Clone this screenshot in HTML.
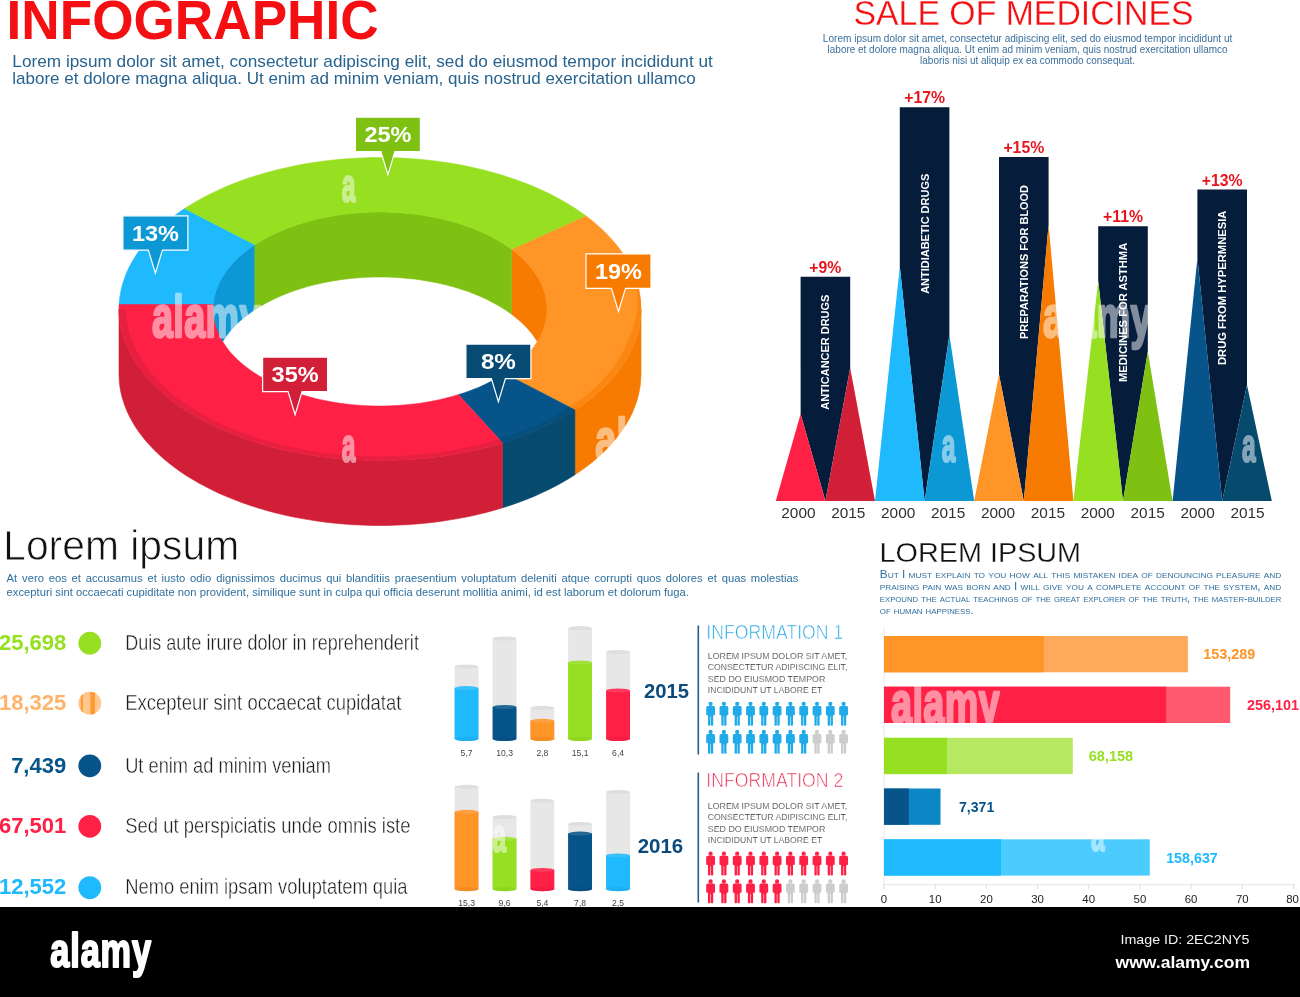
<!DOCTYPE html>
<html><head><meta charset="utf-8"><title>Infographic</title>
<style>
html,body{margin:0;padding:0;background:#fff;}
body{width:1300px;height:997px;overflow:hidden;position:relative;font-family:"Liberation Sans",sans-serif;}
svg{position:absolute;left:0;top:0;will-change:transform;}
svg text{font-family:"Liberation Sans",sans-serif;}
.thin{stroke:#fff;stroke-width:0.4px;paint-order:fill stroke;}
.thinS{stroke:#fff;stroke-width:0.9px;paint-order:fill stroke;}
.thinL{stroke:#fff;stroke-width:0.8px;paint-order:fill stroke;}
.thinM{stroke:#fff;stroke-width:0.4px;paint-order:fill stroke;}
.thinI{stroke:#fff;stroke-width:0.65px;paint-order:fill stroke;}
.thin1{stroke:#fff;stroke-width:0.18px;paint-order:fill stroke;}
.thin2{stroke:#fff;stroke-width:0.3px;paint-order:fill stroke;}
</style></head><body>
<svg width="1300" height="997" viewBox="0 0 1300 997">

<g id="donut">
<path d="M511.6 249.3 L515.1 252.0 L518.4 254.8 L521.6 257.6 L524.6 260.5 L527.5 263.5 L530.1 266.5 L532.6 269.5 L534.8 272.7 L536.9 275.8 L538.8 279.0 L540.5 282.3 L542.0 285.5 L543.4 288.8 L544.5 292.2 L545.4 295.5 L546.1 298.9 L546.6 302.2 L546.9 305.6 L547.0 309.0 L547.0 374.0 L546.9 370.6 L546.6 367.2 L546.1 363.9 L545.4 360.5 L544.5 357.2 L543.4 353.8 L542.0 350.5 L540.5 347.3 L538.8 344.0 L536.9 340.8 L534.8 337.7 L532.6 334.5 L530.1 331.5 L527.5 328.5 L524.6 325.5 L521.6 322.6 L518.4 319.8 L515.1 317.0 L511.6 314.3Z" fill="#f77b00" stroke="#f77b00" stroke-width="0.6"/>
<path d="M213.0 309.0 L213.2 303.9 L213.2 368.9 L213.0 374.0Z" fill="#d11f37" stroke="#d11f37" stroke-width="0.6"/>
<path d="M213.2 303.9 L213.6 300.5 L214.3 297.1 L215.1 293.7 L216.1 290.3 L217.4 287.0 L218.8 283.6 L220.5 280.3 L222.3 277.1 L224.3 273.9 L226.6 270.7 L229.0 267.6 L231.6 264.5 L234.4 261.5 L237.4 258.5 L240.6 255.6 L243.9 252.8 L247.4 250.0 L251.1 247.3 L254.9 244.7 L254.9 309.7 L251.1 312.3 L247.4 315.0 L243.9 317.8 L240.6 320.6 L237.4 323.5 L234.4 326.5 L231.6 329.5 L229.0 332.6 L226.6 335.7 L224.3 338.9 L222.3 342.1 L220.5 345.3 L218.8 348.6 L217.4 352.0 L216.1 355.3 L215.1 358.7 L214.3 362.1 L213.6 365.5 L213.2 368.9Z" fill="#0c97d5" stroke="#0c97d5" stroke-width="0.6"/>
<path d="M254.9 244.7 L258.9 242.2 L263.0 239.8 L267.2 237.4 L271.6 235.2 L276.2 233.0 L280.8 231.0 L285.6 229.0 L290.5 227.1 L295.5 225.3 L300.6 223.7 L305.8 222.1 L311.1 220.6 L316.4 219.3 L321.9 218.1 L327.4 216.9 L333.0 215.9 L338.7 215.0 L344.4 214.2 L350.1 213.6 L355.9 213.0 L361.7 212.6 L367.5 212.3 L373.4 212.1 L379.2 212.0 L385.1 212.0 L391.0 212.2 L396.8 212.5 L402.6 212.9 L408.4 213.4 L414.2 214.0 L419.9 214.8 L425.5 215.7 L431.1 216.7 L436.7 217.8 L442.2 219.0 L447.6 220.3 L452.9 221.7 L458.1 223.3 L463.2 224.9 L468.2 226.6 L473.2 228.5 L478.0 230.4 L482.7 232.5 L487.2 234.6 L491.6 236.9 L495.9 239.2 L500.1 241.6 L504.1 244.1 L507.9 246.6 L511.6 249.3 L511.6 314.3 L507.9 311.6 L504.1 309.1 L500.1 306.6 L495.9 304.2 L491.6 301.9 L487.2 299.6 L482.7 297.5 L478.0 295.4 L473.2 293.5 L468.2 291.6 L463.2 289.9 L458.1 288.3 L452.9 286.7 L447.6 285.3 L442.2 284.0 L436.7 282.8 L431.1 281.7 L425.5 280.7 L419.9 279.8 L414.2 279.0 L408.4 278.4 L402.6 277.9 L396.8 277.5 L391.0 277.2 L385.1 277.0 L379.2 277.0 L373.4 277.1 L367.5 277.3 L361.7 277.6 L355.9 278.0 L350.1 278.6 L344.4 279.2 L338.7 280.0 L333.0 280.9 L327.4 281.9 L321.9 283.1 L316.4 284.3 L311.1 285.6 L305.8 287.1 L300.6 288.7 L295.5 290.3 L290.5 292.1 L285.6 294.0 L280.8 296.0 L276.2 298.0 L271.6 300.2 L267.2 302.4 L263.0 304.8 L258.9 307.2 L254.9 309.7Z" fill="#7ec112" stroke="#7ec112" stroke-width="0.6"/>
<path d="M641.0 309.0 L640.8 314.5 L640.3 320.0 L639.4 325.5 L638.2 331.0 L636.7 336.4 L634.8 341.8 L632.6 347.2 L630.0 352.5 L627.1 357.7 L623.9 362.9 L620.4 368.0 L616.5 373.1 L612.3 378.0 L607.9 382.9 L603.1 387.7 L598.0 392.3 L592.6 396.9 L587.0 401.3 L581.1 405.6 L574.9 409.8 L574.9 474.8 L581.1 470.6 L587.0 466.3 L592.6 461.9 L598.0 457.3 L603.1 452.7 L607.9 447.9 L612.3 443.0 L616.5 438.1 L620.4 433.0 L623.9 427.9 L627.1 422.7 L630.0 417.5 L632.6 412.2 L634.8 406.8 L636.7 401.4 L638.2 396.0 L639.4 390.5 L640.3 385.0 L640.8 379.5 L641.0 374.0Z" fill="#f77b00" stroke="#f77b00" stroke-width="0.6"/>
<path d="M574.9 409.8 L568.6 413.7 L562.1 417.5 L555.4 421.2 L548.4 424.7 L541.2 428.1 L533.9 431.4 L526.3 434.5 L518.5 437.4 L510.6 440.2 L502.5 442.8 L502.5 507.8 L510.6 505.2 L518.5 502.4 L526.3 499.5 L533.9 496.4 L541.2 493.1 L548.4 489.7 L555.4 486.2 L562.1 482.5 L568.6 478.7 L574.9 474.8Z" fill="#064a6e" stroke="#064a6e" stroke-width="0.6"/>
<path d="M502.5 442.8 L494.4 445.2 L486.2 447.4 L477.8 449.5 L469.3 451.4 L460.7 453.1 L451.9 454.6 L443.1 456.0 L434.3 457.2 L425.3 458.2 L416.3 459.0 L407.3 459.7 L398.2 460.1 L389.1 460.4 L380.0 460.5 L370.9 460.4 L361.8 460.1 L352.7 459.7 L343.7 459.0 L334.7 458.2 L325.7 457.2 L316.9 456.0 L308.1 454.6 L299.3 453.1 L290.7 451.4 L282.2 449.5 L273.8 447.4 L265.6 445.2 L257.5 442.8 L249.5 440.2 L241.7 437.5 L234.1 434.6 L226.6 431.6 L219.3 428.4 L212.2 425.1 L205.4 421.6 L198.7 418.0 L192.3 414.2 L186.0 410.4 L180.1 406.4 L174.3 402.3 L168.8 398.0 L163.6 393.7 L158.7 389.3 L154.0 384.8 L149.6 380.1 L145.4 375.4 L141.6 370.6 L138.0 365.8 L134.7 360.8 L131.8 355.8 L129.1 350.8 L126.8 345.7 L124.7 340.5 L123.0 335.3 L121.5 330.1 L120.4 324.8 L119.6 319.6 L119.2 314.3 L119.0 309.0 L119.0 374.0 L119.2 379.3 L119.6 384.6 L120.4 389.8 L121.5 395.1 L123.0 400.3 L124.7 405.5 L126.8 410.7 L129.1 415.8 L131.8 420.8 L134.7 425.8 L138.0 430.8 L141.6 435.6 L145.4 440.4 L149.6 445.1 L154.0 449.8 L158.7 454.3 L163.6 458.7 L168.8 463.0 L174.3 467.3 L180.1 471.4 L186.0 475.4 L192.3 479.2 L198.7 483.0 L205.4 486.6 L212.2 490.1 L219.3 493.4 L226.6 496.6 L234.1 499.6 L241.7 502.5 L249.5 505.2 L257.5 507.8 L265.6 510.2 L273.8 512.4 L282.2 514.5 L290.7 516.4 L299.3 518.1 L308.1 519.6 L316.9 521.0 L325.7 522.2 L334.7 523.2 L343.7 524.0 L352.7 524.7 L361.8 525.1 L370.9 525.4 L380.0 525.5 L389.1 525.4 L398.2 525.1 L407.3 524.7 L416.3 524.0 L425.3 523.2 L434.3 522.2 L443.1 521.0 L451.9 519.6 L460.7 518.1 L469.3 516.4 L477.8 514.5 L486.2 512.4 L494.4 510.2 L502.5 507.8Z" fill="#d11f37" stroke="#d11f37" stroke-width="0.6"/>
<path d="M585.7 215.7 L591.3 220.0 L596.6 224.5 L601.7 229.0 L606.4 233.6 L610.9 238.4 L615.1 243.2 L619.0 248.1 L622.6 253.1 L625.9 258.2 L628.8 263.3 L631.5 268.5 L633.8 273.7 L635.8 279.0 L637.5 284.3 L638.9 289.6 L639.9 295.0 L640.6 300.4 L640.9 305.8 L641.0 311.2 L640.7 316.6 L640.0 322.0 L639.1 327.4 L637.8 332.7 L636.2 338.0 L634.2 343.3 L631.9 348.6 L629.4 353.7 L626.5 358.9 L623.2 363.9 L619.7 368.9 L615.9 373.9 L611.7 378.7 L607.3 383.5 L602.6 388.1 L597.6 392.7 L592.3 397.1 L586.8 401.5 L580.9 405.7 L574.9 409.8 L504.7 373.5 L508.6 370.9 L512.3 368.2 L515.8 365.4 L519.2 362.6 L522.4 359.7 L525.4 356.7 L528.3 353.6 L530.9 350.5 L533.4 347.4 L535.6 344.2 L537.7 340.9 L539.6 337.6 L541.2 334.3 L542.7 331.0 L543.9 327.6 L544.9 324.2 L545.8 320.8 L546.4 317.3 L546.8 313.9 L547.0 310.4 L547.0 306.9 L546.7 303.5 L546.3 300.0 L545.6 296.6 L544.8 293.2 L543.7 289.8 L542.4 286.4 L540.9 283.0 L539.2 279.7 L537.3 276.4 L535.2 273.2 L532.9 270.0 L530.4 266.9 L527.7 263.8 L524.9 260.8 L521.8 257.8 L518.6 254.9 L515.2 252.0 L511.6 249.3Z" fill="#ff9527" stroke="#ff9527" stroke-width="0.5"/>
<path d="M574.9 409.8 L568.6 413.7 L562.1 417.5 L555.4 421.2 L548.4 424.7 L541.2 428.1 L533.9 431.4 L526.3 434.5 L518.5 437.4 L510.6 440.2 L502.5 442.8 L458.4 394.6 L463.6 393.0 L468.6 391.2 L473.6 389.3 L478.4 387.4 L483.2 385.3 L487.7 383.1 L492.2 380.8 L496.5 378.5 L500.7 376.1 L504.7 373.5Z" fill="#06548a" stroke="#06548a" stroke-width="0.5"/>
<path d="M502.5 442.8 L494.3 445.2 L485.9 447.5 L477.4 449.6 L468.7 451.5 L460.0 453.2 L451.1 454.8 L442.1 456.1 L433.1 457.3 L424.0 458.3 L414.9 459.1 L405.7 459.8 L396.4 460.2 L387.2 460.4 L377.9 460.5 L368.7 460.4 L359.5 460.0 L350.2 459.5 L341.1 458.8 L331.9 457.9 L322.9 456.8 L313.9 455.6 L305.0 454.1 L296.1 452.5 L287.4 450.7 L278.8 448.7 L270.4 446.5 L262.0 444.1 L253.9 441.6 L245.8 439.0 L238.0 436.1 L230.3 433.1 L222.8 429.9 L215.5 426.6 L208.4 423.2 L201.6 419.6 L194.9 415.8 L188.5 412.0 L182.4 407.9 L176.4 403.8 L170.8 399.6 L165.4 395.2 L160.2 390.7 L155.4 386.2 L150.8 381.5 L146.5 376.7 L142.5 371.9 L138.8 366.9 L135.5 361.9 L132.4 356.9 L129.6 351.7 L127.2 346.6 L125.0 341.3 L123.2 336.1 L121.7 330.8 L120.5 325.4 L119.7 320.1 L119.2 314.7 L119.0 309.3 L119.1 304.0 L213.2 303.9 L213.0 307.3 L213.0 310.7 L213.2 314.2 L213.7 317.6 L214.3 321.0 L215.1 324.3 L216.1 327.7 L217.4 331.0 L218.8 334.4 L220.4 337.6 L222.3 340.9 L224.3 344.1 L226.5 347.2 L228.9 350.4 L231.5 353.4 L234.3 356.4 L237.3 359.4 L240.4 362.3 L243.7 365.1 L247.2 367.8 L250.9 370.5 L254.7 373.1 L258.6 375.6 L262.7 378.1 L267.0 380.4 L271.4 382.7 L275.9 384.9 L280.6 386.9 L285.4 388.9 L290.3 390.8 L295.3 392.6 L300.4 394.3 L305.6 395.8 L310.9 397.3 L316.3 398.7 L321.8 399.9 L327.3 401.0 L332.9 402.1 L338.6 403.0 L344.3 403.8 L350.1 404.4 L355.9 405.0 L361.7 405.4 L367.6 405.7 L373.4 405.9 L379.3 406.0 L385.2 406.0 L391.1 405.8 L396.9 405.5 L402.8 405.1 L408.6 404.6 L414.3 403.9 L420.1 403.2 L425.8 402.3 L431.4 401.3 L436.9 400.2 L442.4 399.0 L447.8 397.6 L453.2 396.2 L458.4 394.6Z" fill="#ff2046" stroke="#ff2046" stroke-width="0.5"/>
<path d="M119.1 304.0 L119.6 298.5 L120.5 293.0 L121.6 287.5 L123.2 282.1 L125.0 276.7 L127.2 271.3 L129.7 266.0 L132.6 260.7 L135.8 255.6 L139.3 250.4 L143.1 245.4 L147.3 240.4 L151.7 235.6 L156.5 230.8 L161.5 226.1 L166.8 221.6 L172.5 217.1 L178.4 212.8 L184.5 208.6 L254.9 244.7 L251.1 247.3 L247.4 250.0 L243.9 252.8 L240.6 255.6 L237.4 258.5 L234.4 261.5 L231.6 264.5 L229.0 267.6 L226.6 270.7 L224.3 273.9 L222.3 277.1 L220.5 280.3 L218.8 283.6 L217.4 287.0 L216.1 290.3 L215.1 293.7 L214.3 297.1 L213.6 300.5 L213.2 303.9Z" fill="#1fb9fd" stroke="#1fb9fd" stroke-width="0.5"/>
<path d="M184.5 208.6 L190.7 204.7 L197.1 200.9 L203.8 197.2 L210.6 193.7 L217.7 190.4 L225.0 187.1 L232.4 184.0 L240.1 181.1 L247.9 178.3 L255.9 175.7 L264.0 173.3 L272.3 171.0 L280.7 168.9 L289.2 167.0 L297.8 165.2 L306.6 163.6 L315.4 162.2 L324.3 161.0 L333.3 159.9 L342.3 159.1 L351.4 158.4 L360.5 157.9 L369.7 157.6 L378.8 157.5 L388.0 157.6 L397.1 157.8 L406.2 158.3 L415.3 158.9 L424.4 159.7 L433.4 160.7 L442.3 161.9 L451.2 163.2 L459.9 164.8 L468.6 166.5 L477.1 168.4 L485.6 170.4 L493.9 172.7 L502.0 175.1 L510.1 177.7 L517.9 180.4 L525.6 183.3 L533.1 186.3 L540.4 189.5 L547.6 192.8 L554.5 196.3 L561.2 199.9 L567.7 203.7 L573.9 207.6 L579.9 211.6 L585.7 215.7 L511.6 249.3 L507.9 246.6 L504.1 244.1 L500.1 241.6 L495.9 239.2 L491.6 236.9 L487.2 234.6 L482.7 232.5 L478.0 230.4 L473.2 228.5 L468.2 226.6 L463.2 224.9 L458.1 223.3 L452.9 221.7 L447.6 220.3 L442.2 219.0 L436.7 217.8 L431.1 216.7 L425.5 215.7 L419.9 214.8 L414.2 214.0 L408.4 213.4 L402.6 212.9 L396.8 212.5 L391.0 212.2 L385.1 212.0 L379.2 212.0 L373.4 212.1 L367.5 212.3 L361.7 212.6 L355.9 213.0 L350.1 213.6 L344.4 214.2 L338.7 215.0 L333.0 215.9 L327.4 216.9 L321.9 218.1 L316.4 219.3 L311.1 220.6 L305.8 222.1 L300.6 223.7 L295.5 225.3 L290.5 227.1 L285.6 229.0 L280.8 231.0 L276.2 233.0 L271.6 235.2 L267.2 237.4 L263.0 239.8 L258.9 242.2 L254.9 244.7Z" fill="#96e021" stroke="#96e021" stroke-width="0.5"/>
<path d="M632.1 269.8 L634.3 275.0 L636.2 280.2 L637.8 285.5 L639.1 290.8 L640.1 296.1 L640.7 301.5 L641.0 306.8 L640.9 312.2 L640.6 317.5 L639.9 322.9 L638.9 328.2 L637.6 333.5 L635.9 338.8 L633.9 344.0 L631.7 349.2 L629.1 354.3 L626.1 359.4 L622.9 364.4 L619.4 369.3 L615.6 374.2 L611.5 379.0 L607.1 383.7 L602.4 388.3 L597.4 392.8 L592.2 397.2 L586.6 401.5 L580.9 405.7 L574.9 409.8 L569.6 407.1 L575.5 403.1 L581.1 399.0 L586.4 394.9 L591.5 390.6 L596.4 386.2 L600.9 381.7 L605.2 377.1 L609.2 372.5 L612.9 367.7 L616.4 362.9 L619.5 358.0 L622.3 353.1 L624.9 348.1 L627.1 343.0 L629.2 338.0 L631.3 332.9 L633.1 327.8 L634.6 322.6 L635.8 317.4 L636.7 312.1 L637.3 306.8 L637.5 301.6 L637.4 296.3 L637.0 290.9 L636.3 285.6 L635.2 280.3 L633.8 275.1 L632.1 269.8Z" fill="#fb8712" />
<path d="M574.9 409.8 L568.6 413.7 L562.1 417.5 L555.4 421.2 L548.4 424.7 L541.2 428.1 L533.9 431.4 L526.3 434.5 L518.5 437.4 L510.6 440.2 L502.5 442.8 L499.2 439.2 L507.1 436.6 L514.8 433.9 L522.3 431.1 L529.7 428.1 L536.9 424.9 L543.8 421.6 L550.6 418.2 L557.2 414.6 L563.5 410.9 L569.6 407.1Z" fill="#064f7c" />
<path d="M502.5 442.8 L494.4 445.2 L486.2 447.4 L477.8 449.5 L469.3 451.4 L460.7 453.1 L451.9 454.6 L443.1 456.0 L434.3 457.2 L425.3 458.2 L416.3 459.0 L407.3 459.7 L398.2 460.1 L389.1 460.4 L380.0 460.5 L370.9 460.4 L361.8 460.1 L352.7 459.7 L343.7 459.0 L334.7 458.2 L325.7 457.2 L316.9 456.0 L308.1 454.6 L299.3 453.1 L290.7 451.4 L282.2 449.5 L273.8 447.4 L265.6 445.2 L257.5 442.8 L249.5 440.2 L241.7 437.5 L234.1 434.6 L226.6 431.6 L219.3 428.4 L212.2 425.1 L205.4 421.6 L198.7 418.0 L192.3 414.2 L186.0 410.4 L180.1 406.4 L174.3 402.3 L168.8 398.0 L163.6 393.7 L158.7 389.3 L154.0 384.8 L149.6 380.1 L145.4 375.4 L141.6 370.6 L138.0 365.8 L134.7 360.8 L131.8 355.8 L129.1 350.8 L126.8 345.7 L124.7 340.5 L123.0 335.3 L121.5 330.1 L120.4 324.8 L119.6 319.6 L119.2 314.3 L119.0 309.0 L126.0 309.0 L126.2 314.1 L126.7 319.3 L127.4 324.4 L128.5 329.5 L129.9 334.6 L131.6 339.6 L133.6 344.7 L135.9 349.6 L138.5 354.6 L141.4 359.4 L144.5 364.2 L148.0 369.0 L151.7 373.6 L155.8 378.2 L160.1 382.7 L164.6 387.1 L169.5 391.4 L174.5 395.6 L179.9 399.8 L185.5 403.8 L191.3 407.6 L197.3 411.4 L203.6 415.0 L210.1 418.5 L216.8 421.9 L223.7 425.2 L230.7 428.3 L238.0 431.2 L245.4 434.0 L253.0 436.7 L260.8 439.2 L268.7 441.5 L276.7 443.7 L284.9 445.7 L293.1 447.5 L301.5 449.2 L310.0 450.7 L318.6 452.0 L327.2 453.2 L335.9 454.2 L344.7 455.0 L353.5 455.6 L362.3 456.1 L371.1 456.3 L380.0 456.4 L388.9 456.3 L397.7 456.1 L406.5 455.6 L415.3 455.0 L424.1 454.2 L432.8 453.2 L441.4 452.0 L450.0 450.7 L458.5 449.2 L466.9 447.5 L475.1 445.7 L483.3 443.7 L491.3 441.5 L499.2 439.2Z" fill="#e7203f" />
<path d="M355.4 117.2 H420.4 V151.7 H394.9 L387.9 174.7 L380.9 151.7 H355.4 Z" fill="#7ec112" stroke="#fff" stroke-width="1.2" stroke-linejoin="miter"/>
<text x="387.9" y="142.4" text-anchor="middle" font-size="22" font-weight="bold" fill="#fff" textLength="47" lengthAdjust="spacingAndGlyphs">25%</text>
<path d="M586.0 253.9 H651.0 V288.4 H625.5 L618.5 311.4 L611.5 288.4 H586.0 Z" fill="#f77b00" stroke="#fff" stroke-width="1.2" stroke-linejoin="miter"/>
<text x="618.5" y="279.2" text-anchor="middle" font-size="22" font-weight="bold" fill="#fff" textLength="47" lengthAdjust="spacingAndGlyphs">19%</text>
<path d="M122.9 215.8 H187.9 V250.2 H162.4 L155.4 273.2 L148.4 250.2 H122.9 Z" fill="#0c97d5" stroke="#fff" stroke-width="1.2" stroke-linejoin="miter"/>
<text x="155.4" y="241.0" text-anchor="middle" font-size="22" font-weight="bold" fill="#fff" textLength="47" lengthAdjust="spacingAndGlyphs">13%</text>
<path d="M262.6 357.1 H327.6 V391.6 H302.1 L295.1 414.6 L288.1 391.6 H262.6 Z" fill="#d11f37" stroke="#fff" stroke-width="1.2" stroke-linejoin="miter"/>
<text x="295.1" y="382.4" text-anchor="middle" font-size="22" font-weight="bold" fill="#fff" textLength="47" lengthAdjust="spacingAndGlyphs">35%</text>
<path d="M465.9 344.1 H530.9 V378.6 H505.4 L498.4 401.6 L491.4 378.6 H465.9 Z" fill="#074a73" stroke="#fff" stroke-width="1.2" stroke-linejoin="miter"/>
<text x="498.4" y="369.3" text-anchor="middle" font-size="22" font-weight="bold" fill="#fff" textLength="35" lengthAdjust="spacingAndGlyphs">8%</text>
</g>
<g id="tri">
<path d="M800.6 276.8 H850.2 V368.0 L825.4 501.0 L800.6 413.9 Z" fill="#051c3a"/>
<path d="M775.8 501.0 L800.6 413.9 L825.4 501.0 Z" fill="#ff2046"/>
<path d="M825.4 501.0 L850.2 368.0 L875.0 501.0 Z" fill="#d11f37"/>
<text x="825.4" y="272.8" text-anchor="middle" font-size="15.8" font-weight="bold" fill="#e8141e">+9%</text>
<text transform="translate(829.4 352.2) rotate(-90)" text-anchor="middle" font-size="11.6" font-weight="bold" fill="#fff" textLength="115.1" lengthAdjust="spacingAndGlyphs">ANTICANCER DRUGS</text>
<text x="798.4" y="517.8" text-anchor="middle" font-size="15.4" fill="#2f2f2f">2000</text>
<text x="848.3" y="517.8" text-anchor="middle" font-size="15.4" fill="#2f2f2f">2015</text>
<path d="M899.8 107.2 H949.4 V335.0 L924.6 501.0 L899.8 266.5 Z" fill="#051c3a"/>
<path d="M875.0 501.0 L899.8 266.5 L924.6 501.0 Z" fill="#1fb9fd"/>
<path d="M924.6 501.0 L949.4 335.0 L974.2 501.0 Z" fill="#0c97d5"/>
<text x="924.6" y="103.2" text-anchor="middle" font-size="15.8" font-weight="bold" fill="#e8141e">+17%</text>
<text transform="translate(928.6 233.8) rotate(-90)" text-anchor="middle" font-size="11.6" font-weight="bold" fill="#fff" textLength="120.1" lengthAdjust="spacingAndGlyphs">ANTIDIABETIC DRUGS</text>
<text x="898.2" y="517.8" text-anchor="middle" font-size="15.4" fill="#2f2f2f">2000</text>
<text x="948.1" y="517.8" text-anchor="middle" font-size="15.4" fill="#2f2f2f">2015</text>
<path d="M999.0 157.0 H1048.6 V224.7 L1023.8 501.0 L999.0 374.5 Z" fill="#051c3a"/>
<path d="M974.2 501.0 L999.0 374.5 L1023.8 501.0 Z" fill="#ff9527"/>
<path d="M1023.8 501.0 L1048.6 224.7 L1073.4 501.0 Z" fill="#f77b00"/>
<text x="1023.8" y="153.0" text-anchor="middle" font-size="15.8" font-weight="bold" fill="#e8141e">+15%</text>
<text transform="translate(1027.8 262.0) rotate(-90)" text-anchor="middle" font-size="11.6" font-weight="bold" fill="#fff" textLength="154.0" lengthAdjust="spacingAndGlyphs">PREPARATIONS FOR BLOOD</text>
<text x="998.0" y="517.8" text-anchor="middle" font-size="15.4" fill="#2f2f2f">2000</text>
<text x="1047.9" y="517.8" text-anchor="middle" font-size="15.4" fill="#2f2f2f">2015</text>
<path d="M1098.2 226.3 H1147.8 V351.6 L1123.0 501.0 L1098.2 281.0 Z" fill="#051c3a"/>
<path d="M1073.4 501.0 L1098.2 281.0 L1123.0 501.0 Z" fill="#96e021"/>
<path d="M1123.0 501.0 L1147.8 351.6 L1172.6 501.0 Z" fill="#7ec112"/>
<text x="1123.0" y="222.3" text-anchor="middle" font-size="15.8" font-weight="bold" fill="#e8141e">+11%</text>
<text transform="translate(1127.0 312.4) rotate(-90)" text-anchor="middle" font-size="11.6" font-weight="bold" fill="#fff" textLength="139.2" lengthAdjust="spacingAndGlyphs">MEDICINES FOR ASTHMA</text>
<text x="1097.8" y="517.8" text-anchor="middle" font-size="15.4" fill="#2f2f2f">2000</text>
<text x="1147.7" y="517.8" text-anchor="middle" font-size="15.4" fill="#2f2f2f">2015</text>
<path d="M1197.4 189.5 H1247.0 V384.9 L1222.2 501.0 L1197.4 258.0 Z" fill="#051c3a"/>
<path d="M1172.6 501.0 L1197.4 258.0 L1222.2 501.0 Z" fill="#06548a"/>
<path d="M1222.2 501.0 L1247.0 384.9 L1271.8 501.0 Z" fill="#064a6e"/>
<text x="1222.2" y="185.5" text-anchor="middle" font-size="15.8" font-weight="bold" fill="#e8141e">+13%</text>
<text transform="translate(1226.2 287.8) rotate(-90)" text-anchor="middle" font-size="11.6" font-weight="bold" fill="#fff" textLength="154.4" lengthAdjust="spacingAndGlyphs">DRUG FROM HYPERMNESIA</text>
<text x="1197.6" y="517.8" text-anchor="middle" font-size="15.4" fill="#2f2f2f">2000</text>
<text x="1247.5" y="517.8" text-anchor="middle" font-size="15.4" fill="#2f2f2f">2015</text>
</g>
<g id="header">
<text x="6.6" y="38.5" font-size="55" font-weight="bold" fill="#f30f12" textLength="372" lengthAdjust="spacingAndGlyphs">INFOGRAPHIC</text>
<text transform="translate(12.30 66.90) scale(1.0379 1)" font-size="16.60" fill="#28648f" >Lorem ipsum dolor sit amet, consectetur adipiscing elit, sed do eiusmod tempor incididunt ut</text>
<text transform="translate(12.30 84.30) scale(1.0253 1)" font-size="16.60" fill="#28648f" >labore et dolore magna aliqua. Ut enim ad minim veniam, quis nostrud exercitation ullamco</text>
<text class="thin2" x="1023.5" y="24.8" text-anchor="middle" font-size="35.5" fill="#f30f12" textLength="340" lengthAdjust="spacingAndGlyphs">SALE OF MEDICINES</text>
<text x="1027.6" y="41.5" text-anchor="middle" font-size="10" fill="#3a6f9c" textLength="409.5" lengthAdjust="spacingAndGlyphs">Lorem ipsum dolor sit amet, consectetur adipiscing elit, sed do eiusmod tempor incididunt ut</text>
<text x="1027.6" y="52.8" text-anchor="middle" font-size="10" fill="#3a6f9c" textLength="400.0" lengthAdjust="spacingAndGlyphs">labore et dolore magna aliqua. Ut enim ad minim veniam, quis nostrud exercitation ullamco</text>
<text x="1027.6" y="64.2" text-anchor="middle" font-size="10" fill="#3a6f9c" textLength="215.0" lengthAdjust="spacingAndGlyphs">laboris nisi ut aliquip ex ea commodo consequat.</text>
</g>
<g id="leftlist">
<text class="thinL" x="3.2" y="560.2" font-size="42" fill="#111" textLength="236" lengthAdjust="spacingAndGlyphs">Lorem ipsum</text>
<text transform="translate(6.60 582.40) scale(1.0618 1)" font-size="10.60" fill="#2f6f9e" word-spacing="1.563" >At vero eos et accusamus et iusto odio dignissimos ducimus qui blanditiis praesentium voluptatum deleniti atque corrupti quos dolores et quas molestias</text>
<text transform="translate(6.60 596.00) scale(1.0618 1)" font-size="10.60" fill="#2f6f9e" >excepturi sint occaecati cupiditate non provident, similique sunt in culpa qui officia deserunt mollitia animi, id est laborum et dolorum fuga.</text>
<text x="66.2" y="650.0" text-anchor="end" font-size="22" font-weight="bold" fill="#96e021">25,698</text>
<circle cx="89.8" cy="643.2" r="11.4" fill="#96e021"/>
<text transform="translate(125.20 649.90) scale(0.8512 1)" font-size="21.20" fill="#1e1e1e" class="thinM" >Duis aute irure dolor in reprehenderit</text>
<text x="66.2" y="710.0" text-anchor="end" font-size="22" font-weight="bold" fill="#ffb469">18,325</text>
<clipPath id="cc"><circle cx="89.8" cy="703.2" r="11.4"/></clipPath>
<g clip-path="url(#cc)"><rect x="78" y="691.2" width="24" height="24" fill="#ffc68e"/><rect x="80.8" y="691.2" width="2.2" height="24" fill="#ff9d38"/><rect x="90.4" y="691.2" width="4.6" height="24" fill="#ff9a30"/></g>
<text transform="translate(125.20 709.90) scale(0.8719 1)" font-size="21.20" fill="#1e1e1e" class="thinM" >Excepteur sint occaecat cupidatat</text>
<text x="66.2" y="772.6" text-anchor="end" font-size="22" font-weight="bold" fill="#06548a">7,439</text>
<circle cx="89.8" cy="765.8" r="11.4" fill="#06548a"/>
<text transform="translate(125.20 772.50) scale(0.8609 1)" font-size="21.20" fill="#1e1e1e" class="thinM" >Ut enim ad minim veniam</text>
<text x="66.2" y="833.1" text-anchor="end" font-size="22" font-weight="bold" fill="#ff2046">67,501</text>
<circle cx="89.8" cy="826.3" r="11.4" fill="#ff2046"/>
<text transform="translate(125.20 833.00) scale(0.8712 1)" font-size="21.20" fill="#1e1e1e" class="thinM" >Sed ut perspiciatis unde omnis iste</text>
<text x="66.2" y="894.4" text-anchor="end" font-size="22" font-weight="bold" fill="#1fb9fd">12,552</text>
<circle cx="89.8" cy="887.6" r="11.4" fill="#1fb9fd"/>
<text transform="translate(125.20 894.30) scale(0.8652 1)" font-size="21.20" fill="#1e1e1e" class="thinM" >Nemo enim ipsam voluptatem quia</text>
</g>
<g id="tubes">
<path d="M454.6 666.5 V739.0 A11.95 2.00 0 0 0 478.5 739.0 V666.5 Z" fill="#e7e7e7"/><ellipse cx="466.55" cy="666.50" rx="11.95" ry="2.00" fill="#dedede"/>
<path d="M454.6 688.1 V739.0 A11.95 2.00 0 0 0 478.5 739.0 V688.1 Z" fill="#1fb9fd"/><ellipse cx="466.55" cy="688.10" rx="11.95" ry="2.00" fill="#39c1fd"/>
<ellipse cx="466.55" cy="738.80" rx="11.65" ry="2.00" fill="#1caae8" opacity="0.6"/>
<text x="466.6" y="755.8" text-anchor="middle" font-size="8.6" fill="#444">5,7</text>
<path d="M492.6 638.5 V739.0 A11.95 2.00 0 0 0 516.5 739.0 V638.5 Z" fill="#e7e7e7"/><ellipse cx="504.55" cy="638.50" rx="11.95" ry="2.00" fill="#dedede"/>
<path d="M492.6 707.0 V739.0 A11.95 2.00 0 0 0 516.5 739.0 V707.0 Z" fill="#06548a"/><ellipse cx="504.55" cy="707.00" rx="11.95" ry="2.00" fill="#236898"/>
<ellipse cx="504.55" cy="738.80" rx="11.65" ry="2.00" fill="#054d7e" opacity="0.6"/>
<text x="504.6" y="755.8" text-anchor="middle" font-size="8.6" fill="#444">10,3</text>
<path d="M530.4 707.8 V739.0 A11.95 2.00 0 0 0 554.3 739.0 V707.8 Z" fill="#e7e7e7"/><ellipse cx="542.35" cy="707.80" rx="11.95" ry="2.00" fill="#dedede"/>
<path d="M530.4 720.8 V739.0 A11.95 2.00 0 0 0 554.3 739.0 V720.8 Z" fill="#ff9527"/><ellipse cx="542.35" cy="720.80" rx="11.95" ry="2.00" fill="#ffa140"/>
<ellipse cx="542.35" cy="738.80" rx="11.65" ry="2.00" fill="#ea8923" opacity="0.6"/>
<text x="542.4" y="755.8" text-anchor="middle" font-size="8.6" fill="#444">2,8</text>
<path d="M568.1 628.1 V739.0 A11.95 2.00 0 0 0 592.0 739.0 V628.1 Z" fill="#e7e7e7"/><ellipse cx="580.05" cy="628.10" rx="11.95" ry="2.00" fill="#dedede"/>
<path d="M568.1 662.4 V739.0 A11.95 2.00 0 0 0 592.0 739.0 V662.4 Z" fill="#96e021"/><ellipse cx="580.05" cy="662.40" rx="11.95" ry="2.00" fill="#a2e33b"/>
<ellipse cx="580.05" cy="738.80" rx="11.65" ry="2.00" fill="#8ace1e" opacity="0.6"/>
<text x="580.1" y="755.8" text-anchor="middle" font-size="8.6" fill="#444">15,1</text>
<path d="M606.1 652.0 V739.0 A11.95 2.00 0 0 0 630.0 739.0 V652.0 Z" fill="#e7e7e7"/><ellipse cx="618.05" cy="652.00" rx="11.95" ry="2.00" fill="#dedede"/>
<path d="M606.1 690.5 V739.0 A11.95 2.00 0 0 0 630.0 739.0 V690.5 Z" fill="#ff2046"/><ellipse cx="618.05" cy="690.50" rx="11.95" ry="2.00" fill="#ff3a5c"/>
<ellipse cx="618.05" cy="738.80" rx="11.65" ry="2.00" fill="#ea1d40" opacity="0.6"/>
<text x="618.1" y="755.8" text-anchor="middle" font-size="8.6" fill="#444">6,4</text>
<path d="M454.6 786.8 V889.2 A11.95 2.00 0 0 0 478.5 889.2 V786.8 Z" fill="#e7e7e7"/><ellipse cx="466.55" cy="786.80" rx="11.95" ry="2.00" fill="#dedede"/>
<path d="M454.6 811.8 V889.2 A11.95 2.00 0 0 0 478.5 889.2 V811.8 Z" fill="#ff9527"/><ellipse cx="466.55" cy="811.80" rx="11.95" ry="2.00" fill="#ffa140"/>
<ellipse cx="466.55" cy="889.00" rx="11.65" ry="2.00" fill="#ea8923" opacity="0.6"/>
<text x="466.6" y="905.6" text-anchor="middle" font-size="8.6" fill="#444">15,3</text>
<path d="M492.6 817.0 V889.2 A11.95 2.00 0 0 0 516.5 889.2 V817.0 Z" fill="#e7e7e7"/><ellipse cx="504.55" cy="817.00" rx="11.95" ry="2.00" fill="#dedede"/>
<path d="M492.6 838.8 V889.2 A11.95 2.00 0 0 0 516.5 889.2 V838.8 Z" fill="#96e021"/><ellipse cx="504.55" cy="838.80" rx="11.95" ry="2.00" fill="#a2e33b"/>
<ellipse cx="504.55" cy="889.00" rx="11.65" ry="2.00" fill="#8ace1e" opacity="0.6"/>
<text x="504.6" y="905.6" text-anchor="middle" font-size="8.6" fill="#444">9,6</text>
<path d="M530.4 800.7 V889.2 A11.95 2.00 0 0 0 554.3 889.2 V800.7 Z" fill="#e7e7e7"/><ellipse cx="542.35" cy="800.70" rx="11.95" ry="2.00" fill="#dedede"/>
<path d="M530.4 869.9 V889.2 A11.95 2.00 0 0 0 554.3 889.2 V869.9 Z" fill="#ff2046"/><ellipse cx="542.35" cy="869.90" rx="11.95" ry="2.00" fill="#ff3a5c"/>
<ellipse cx="542.35" cy="889.00" rx="11.65" ry="2.00" fill="#ea1d40" opacity="0.6"/>
<text x="542.4" y="905.6" text-anchor="middle" font-size="8.6" fill="#444">5,4</text>
<path d="M568.1 823.9 V889.2 A11.95 2.00 0 0 0 592.0 889.2 V823.9 Z" fill="#e7e7e7"/><ellipse cx="580.05" cy="823.90" rx="11.95" ry="2.00" fill="#dedede"/>
<path d="M568.1 833.6 V889.2 A11.95 2.00 0 0 0 592.0 889.2 V833.6 Z" fill="#06548a"/><ellipse cx="580.05" cy="833.60" rx="11.95" ry="2.00" fill="#236898"/>
<ellipse cx="580.05" cy="889.00" rx="11.65" ry="2.00" fill="#054d7e" opacity="0.6"/>
<text x="580.1" y="905.6" text-anchor="middle" font-size="8.6" fill="#444">7,8</text>
<path d="M606.1 792.0 V889.2 A11.95 2.00 0 0 0 630.0 889.2 V792.0 Z" fill="#e7e7e7"/><ellipse cx="618.05" cy="792.00" rx="11.95" ry="2.00" fill="#dedede"/>
<path d="M606.1 855.4 V889.2 A11.95 2.00 0 0 0 630.0 889.2 V855.4 Z" fill="#1fb9fd"/><ellipse cx="618.05" cy="855.40" rx="11.95" ry="2.00" fill="#39c1fd"/>
<ellipse cx="618.05" cy="889.00" rx="11.65" ry="2.00" fill="#1caae8" opacity="0.6"/>
<text x="618.1" y="905.6" text-anchor="middle" font-size="8.6" fill="#444">2,5</text>
<text x="666.5" y="697.8" text-anchor="middle" font-size="20.5" font-weight="bold" fill="#0b4a7d" textLength="45" lengthAdjust="spacingAndGlyphs">2015</text>
<text x="660.5" y="852.6" text-anchor="middle" font-size="20.5" font-weight="bold" fill="#0b4a7d" textLength="45.5" lengthAdjust="spacingAndGlyphs">2016</text>
</g>
<g id="info">
<rect x="697.5" y="625.5" width="1.6" height="129" fill="#2a5b88"/>
<rect x="697.5" y="772.5" width="1.6" height="130" fill="#2a5b88"/>
<text class="thinI" x="706.3" y="639.4" font-size="19.6" fill="#1fa6e4" textLength="137" lengthAdjust="spacingAndGlyphs">INFORMATION 1</text>
<text class="thin1" x="707.8" y="658.8" font-size="8.9" fill="#2e2e2e" textLength="139.5" lengthAdjust="spacingAndGlyphs">LOREM IPSUM DOLOR SIT AMET,</text>
<text class="thin1" x="707.8" y="670.2" font-size="8.9" fill="#2e2e2e" textLength="139.5" lengthAdjust="spacingAndGlyphs">CONSECTETUR ADIPISCING ELIT,</text>
<text class="thin1" x="707.8" y="681.6" font-size="8.9" fill="#2e2e2e" textLength="117.5" lengthAdjust="spacingAndGlyphs">SED DO EIUSMOD TEMPOR</text>
<text class="thin1" x="707.8" y="693.4" font-size="8.9" fill="#2e2e2e" textLength="114.5" lengthAdjust="spacingAndGlyphs">INCIDIDUNT UT LABORE ET</text>
<g transform="translate(710.60 701.80) scale(1 1.035)" fill="#20abe8"><circle cx="0" cy="2.0" r="2.1"/><path d="M-3.0 4.0 H3.0 Q4.4 4.0 4.4 5.6 V12.2 Q4.4 12.9 3.7 12.9 Q3.1 12.9 3.1 12.2 V13 H-3.1 V12.2 Q-3.1 12.9 -3.7 12.9 Q-4.4 12.9 -4.4 12.2 V5.6 Q-4.4 4.0 -3.0 4.0Z"/><path d="M-2.6 12 H-0.25 V22.4 Q-0.25 23.1 -1.1 23.1 H-1.75 Q-2.6 23.1 -2.6 22.4Z"/><path d="M2.6 12 H0.25 V22.4 Q0.25 23.1 1.1 23.1 H1.75 Q2.6 23.1 2.6 22.4Z"/><rect x="-2.6" y="8" width="5.2" height="6"/></g>
<g transform="translate(710.60 729.90) scale(1 1.035)" fill="#20abe8"><circle cx="0" cy="2.0" r="2.1"/><path d="M-3.0 4.0 H3.0 Q4.4 4.0 4.4 5.6 V12.2 Q4.4 12.9 3.7 12.9 Q3.1 12.9 3.1 12.2 V13 H-3.1 V12.2 Q-3.1 12.9 -3.7 12.9 Q-4.4 12.9 -4.4 12.2 V5.6 Q-4.4 4.0 -3.0 4.0Z"/><path d="M-2.6 12 H-0.25 V22.4 Q-0.25 23.1 -1.1 23.1 H-1.75 Q-2.6 23.1 -2.6 22.4Z"/><path d="M2.6 12 H0.25 V22.4 Q0.25 23.1 1.1 23.1 H1.75 Q2.6 23.1 2.6 22.4Z"/><rect x="-2.6" y="8" width="5.2" height="6"/></g>
<g transform="translate(723.90 701.80) scale(1 1.035)" fill="#20abe8"><circle cx="0" cy="2.0" r="2.1"/><path d="M-3.0 4.0 H3.0 Q4.4 4.0 4.4 5.6 V12.2 Q4.4 12.9 3.7 12.9 Q3.1 12.9 3.1 12.2 V13 H-3.1 V12.2 Q-3.1 12.9 -3.7 12.9 Q-4.4 12.9 -4.4 12.2 V5.6 Q-4.4 4.0 -3.0 4.0Z"/><path d="M-2.6 12 H-0.25 V22.4 Q-0.25 23.1 -1.1 23.1 H-1.75 Q-2.6 23.1 -2.6 22.4Z"/><path d="M2.6 12 H0.25 V22.4 Q0.25 23.1 1.1 23.1 H1.75 Q2.6 23.1 2.6 22.4Z"/><rect x="-2.6" y="8" width="5.2" height="6"/></g>
<g transform="translate(723.90 729.90) scale(1 1.035)" fill="#20abe8"><circle cx="0" cy="2.0" r="2.1"/><path d="M-3.0 4.0 H3.0 Q4.4 4.0 4.4 5.6 V12.2 Q4.4 12.9 3.7 12.9 Q3.1 12.9 3.1 12.2 V13 H-3.1 V12.2 Q-3.1 12.9 -3.7 12.9 Q-4.4 12.9 -4.4 12.2 V5.6 Q-4.4 4.0 -3.0 4.0Z"/><path d="M-2.6 12 H-0.25 V22.4 Q-0.25 23.1 -1.1 23.1 H-1.75 Q-2.6 23.1 -2.6 22.4Z"/><path d="M2.6 12 H0.25 V22.4 Q0.25 23.1 1.1 23.1 H1.75 Q2.6 23.1 2.6 22.4Z"/><rect x="-2.6" y="8" width="5.2" height="6"/></g>
<g transform="translate(737.20 701.80) scale(1 1.035)" fill="#20abe8"><circle cx="0" cy="2.0" r="2.1"/><path d="M-3.0 4.0 H3.0 Q4.4 4.0 4.4 5.6 V12.2 Q4.4 12.9 3.7 12.9 Q3.1 12.9 3.1 12.2 V13 H-3.1 V12.2 Q-3.1 12.9 -3.7 12.9 Q-4.4 12.9 -4.4 12.2 V5.6 Q-4.4 4.0 -3.0 4.0Z"/><path d="M-2.6 12 H-0.25 V22.4 Q-0.25 23.1 -1.1 23.1 H-1.75 Q-2.6 23.1 -2.6 22.4Z"/><path d="M2.6 12 H0.25 V22.4 Q0.25 23.1 1.1 23.1 H1.75 Q2.6 23.1 2.6 22.4Z"/><rect x="-2.6" y="8" width="5.2" height="6"/></g>
<g transform="translate(737.20 729.90) scale(1 1.035)" fill="#20abe8"><circle cx="0" cy="2.0" r="2.1"/><path d="M-3.0 4.0 H3.0 Q4.4 4.0 4.4 5.6 V12.2 Q4.4 12.9 3.7 12.9 Q3.1 12.9 3.1 12.2 V13 H-3.1 V12.2 Q-3.1 12.9 -3.7 12.9 Q-4.4 12.9 -4.4 12.2 V5.6 Q-4.4 4.0 -3.0 4.0Z"/><path d="M-2.6 12 H-0.25 V22.4 Q-0.25 23.1 -1.1 23.1 H-1.75 Q-2.6 23.1 -2.6 22.4Z"/><path d="M2.6 12 H0.25 V22.4 Q0.25 23.1 1.1 23.1 H1.75 Q2.6 23.1 2.6 22.4Z"/><rect x="-2.6" y="8" width="5.2" height="6"/></g>
<g transform="translate(750.50 701.80) scale(1 1.035)" fill="#20abe8"><circle cx="0" cy="2.0" r="2.1"/><path d="M-3.0 4.0 H3.0 Q4.4 4.0 4.4 5.6 V12.2 Q4.4 12.9 3.7 12.9 Q3.1 12.9 3.1 12.2 V13 H-3.1 V12.2 Q-3.1 12.9 -3.7 12.9 Q-4.4 12.9 -4.4 12.2 V5.6 Q-4.4 4.0 -3.0 4.0Z"/><path d="M-2.6 12 H-0.25 V22.4 Q-0.25 23.1 -1.1 23.1 H-1.75 Q-2.6 23.1 -2.6 22.4Z"/><path d="M2.6 12 H0.25 V22.4 Q0.25 23.1 1.1 23.1 H1.75 Q2.6 23.1 2.6 22.4Z"/><rect x="-2.6" y="8" width="5.2" height="6"/></g>
<g transform="translate(750.50 729.90) scale(1 1.035)" fill="#20abe8"><circle cx="0" cy="2.0" r="2.1"/><path d="M-3.0 4.0 H3.0 Q4.4 4.0 4.4 5.6 V12.2 Q4.4 12.9 3.7 12.9 Q3.1 12.9 3.1 12.2 V13 H-3.1 V12.2 Q-3.1 12.9 -3.7 12.9 Q-4.4 12.9 -4.4 12.2 V5.6 Q-4.4 4.0 -3.0 4.0Z"/><path d="M-2.6 12 H-0.25 V22.4 Q-0.25 23.1 -1.1 23.1 H-1.75 Q-2.6 23.1 -2.6 22.4Z"/><path d="M2.6 12 H0.25 V22.4 Q0.25 23.1 1.1 23.1 H1.75 Q2.6 23.1 2.6 22.4Z"/><rect x="-2.6" y="8" width="5.2" height="6"/></g>
<g transform="translate(763.80 701.80) scale(1 1.035)" fill="#20abe8"><circle cx="0" cy="2.0" r="2.1"/><path d="M-3.0 4.0 H3.0 Q4.4 4.0 4.4 5.6 V12.2 Q4.4 12.9 3.7 12.9 Q3.1 12.9 3.1 12.2 V13 H-3.1 V12.2 Q-3.1 12.9 -3.7 12.9 Q-4.4 12.9 -4.4 12.2 V5.6 Q-4.4 4.0 -3.0 4.0Z"/><path d="M-2.6 12 H-0.25 V22.4 Q-0.25 23.1 -1.1 23.1 H-1.75 Q-2.6 23.1 -2.6 22.4Z"/><path d="M2.6 12 H0.25 V22.4 Q0.25 23.1 1.1 23.1 H1.75 Q2.6 23.1 2.6 22.4Z"/><rect x="-2.6" y="8" width="5.2" height="6"/></g>
<g transform="translate(763.80 729.90) scale(1 1.035)" fill="#20abe8"><circle cx="0" cy="2.0" r="2.1"/><path d="M-3.0 4.0 H3.0 Q4.4 4.0 4.4 5.6 V12.2 Q4.4 12.9 3.7 12.9 Q3.1 12.9 3.1 12.2 V13 H-3.1 V12.2 Q-3.1 12.9 -3.7 12.9 Q-4.4 12.9 -4.4 12.2 V5.6 Q-4.4 4.0 -3.0 4.0Z"/><path d="M-2.6 12 H-0.25 V22.4 Q-0.25 23.1 -1.1 23.1 H-1.75 Q-2.6 23.1 -2.6 22.4Z"/><path d="M2.6 12 H0.25 V22.4 Q0.25 23.1 1.1 23.1 H1.75 Q2.6 23.1 2.6 22.4Z"/><rect x="-2.6" y="8" width="5.2" height="6"/></g>
<g transform="translate(777.10 701.80) scale(1 1.035)" fill="#20abe8"><circle cx="0" cy="2.0" r="2.1"/><path d="M-3.0 4.0 H3.0 Q4.4 4.0 4.4 5.6 V12.2 Q4.4 12.9 3.7 12.9 Q3.1 12.9 3.1 12.2 V13 H-3.1 V12.2 Q-3.1 12.9 -3.7 12.9 Q-4.4 12.9 -4.4 12.2 V5.6 Q-4.4 4.0 -3.0 4.0Z"/><path d="M-2.6 12 H-0.25 V22.4 Q-0.25 23.1 -1.1 23.1 H-1.75 Q-2.6 23.1 -2.6 22.4Z"/><path d="M2.6 12 H0.25 V22.4 Q0.25 23.1 1.1 23.1 H1.75 Q2.6 23.1 2.6 22.4Z"/><rect x="-2.6" y="8" width="5.2" height="6"/></g>
<g transform="translate(777.10 729.90) scale(1 1.035)" fill="#20abe8"><circle cx="0" cy="2.0" r="2.1"/><path d="M-3.0 4.0 H3.0 Q4.4 4.0 4.4 5.6 V12.2 Q4.4 12.9 3.7 12.9 Q3.1 12.9 3.1 12.2 V13 H-3.1 V12.2 Q-3.1 12.9 -3.7 12.9 Q-4.4 12.9 -4.4 12.2 V5.6 Q-4.4 4.0 -3.0 4.0Z"/><path d="M-2.6 12 H-0.25 V22.4 Q-0.25 23.1 -1.1 23.1 H-1.75 Q-2.6 23.1 -2.6 22.4Z"/><path d="M2.6 12 H0.25 V22.4 Q0.25 23.1 1.1 23.1 H1.75 Q2.6 23.1 2.6 22.4Z"/><rect x="-2.6" y="8" width="5.2" height="6"/></g>
<g transform="translate(790.40 701.80) scale(1 1.035)" fill="#20abe8"><circle cx="0" cy="2.0" r="2.1"/><path d="M-3.0 4.0 H3.0 Q4.4 4.0 4.4 5.6 V12.2 Q4.4 12.9 3.7 12.9 Q3.1 12.9 3.1 12.2 V13 H-3.1 V12.2 Q-3.1 12.9 -3.7 12.9 Q-4.4 12.9 -4.4 12.2 V5.6 Q-4.4 4.0 -3.0 4.0Z"/><path d="M-2.6 12 H-0.25 V22.4 Q-0.25 23.1 -1.1 23.1 H-1.75 Q-2.6 23.1 -2.6 22.4Z"/><path d="M2.6 12 H0.25 V22.4 Q0.25 23.1 1.1 23.1 H1.75 Q2.6 23.1 2.6 22.4Z"/><rect x="-2.6" y="8" width="5.2" height="6"/></g>
<g transform="translate(790.40 729.90) scale(1 1.035)" fill="#20abe8"><circle cx="0" cy="2.0" r="2.1"/><path d="M-3.0 4.0 H3.0 Q4.4 4.0 4.4 5.6 V12.2 Q4.4 12.9 3.7 12.9 Q3.1 12.9 3.1 12.2 V13 H-3.1 V12.2 Q-3.1 12.9 -3.7 12.9 Q-4.4 12.9 -4.4 12.2 V5.6 Q-4.4 4.0 -3.0 4.0Z"/><path d="M-2.6 12 H-0.25 V22.4 Q-0.25 23.1 -1.1 23.1 H-1.75 Q-2.6 23.1 -2.6 22.4Z"/><path d="M2.6 12 H0.25 V22.4 Q0.25 23.1 1.1 23.1 H1.75 Q2.6 23.1 2.6 22.4Z"/><rect x="-2.6" y="8" width="5.2" height="6"/></g>
<g transform="translate(803.70 701.80) scale(1 1.035)" fill="#20abe8"><circle cx="0" cy="2.0" r="2.1"/><path d="M-3.0 4.0 H3.0 Q4.4 4.0 4.4 5.6 V12.2 Q4.4 12.9 3.7 12.9 Q3.1 12.9 3.1 12.2 V13 H-3.1 V12.2 Q-3.1 12.9 -3.7 12.9 Q-4.4 12.9 -4.4 12.2 V5.6 Q-4.4 4.0 -3.0 4.0Z"/><path d="M-2.6 12 H-0.25 V22.4 Q-0.25 23.1 -1.1 23.1 H-1.75 Q-2.6 23.1 -2.6 22.4Z"/><path d="M2.6 12 H0.25 V22.4 Q0.25 23.1 1.1 23.1 H1.75 Q2.6 23.1 2.6 22.4Z"/><rect x="-2.6" y="8" width="5.2" height="6"/></g>
<g transform="translate(803.70 729.90) scale(1 1.035)" fill="#20abe8"><circle cx="0" cy="2.0" r="2.1"/><path d="M-3.0 4.0 H3.0 Q4.4 4.0 4.4 5.6 V12.2 Q4.4 12.9 3.7 12.9 Q3.1 12.9 3.1 12.2 V13 H-3.1 V12.2 Q-3.1 12.9 -3.7 12.9 Q-4.4 12.9 -4.4 12.2 V5.6 Q-4.4 4.0 -3.0 4.0Z"/><path d="M-2.6 12 H-0.25 V22.4 Q-0.25 23.1 -1.1 23.1 H-1.75 Q-2.6 23.1 -2.6 22.4Z"/><path d="M2.6 12 H0.25 V22.4 Q0.25 23.1 1.1 23.1 H1.75 Q2.6 23.1 2.6 22.4Z"/><rect x="-2.6" y="8" width="5.2" height="6"/></g>
<g transform="translate(817.00 701.80) scale(1 1.035)" fill="#20abe8"><circle cx="0" cy="2.0" r="2.1"/><path d="M-3.0 4.0 H3.0 Q4.4 4.0 4.4 5.6 V12.2 Q4.4 12.9 3.7 12.9 Q3.1 12.9 3.1 12.2 V13 H-3.1 V12.2 Q-3.1 12.9 -3.7 12.9 Q-4.4 12.9 -4.4 12.2 V5.6 Q-4.4 4.0 -3.0 4.0Z"/><path d="M-2.6 12 H-0.25 V22.4 Q-0.25 23.1 -1.1 23.1 H-1.75 Q-2.6 23.1 -2.6 22.4Z"/><path d="M2.6 12 H0.25 V22.4 Q0.25 23.1 1.1 23.1 H1.75 Q2.6 23.1 2.6 22.4Z"/><rect x="-2.6" y="8" width="5.2" height="6"/></g>
<g transform="translate(817.00 729.90) scale(1 1.035)" fill="#cdcdcd"><circle cx="0" cy="2.0" r="2.1"/><path d="M-3.0 4.0 H3.0 Q4.4 4.0 4.4 5.6 V12.2 Q4.4 12.9 3.7 12.9 Q3.1 12.9 3.1 12.2 V13 H-3.1 V12.2 Q-3.1 12.9 -3.7 12.9 Q-4.4 12.9 -4.4 12.2 V5.6 Q-4.4 4.0 -3.0 4.0Z"/><path d="M-2.6 12 H-0.25 V22.4 Q-0.25 23.1 -1.1 23.1 H-1.75 Q-2.6 23.1 -2.6 22.4Z"/><path d="M2.6 12 H0.25 V22.4 Q0.25 23.1 1.1 23.1 H1.75 Q2.6 23.1 2.6 22.4Z"/><rect x="-2.6" y="8" width="5.2" height="6"/></g>
<g transform="translate(830.30 701.80) scale(1 1.035)" fill="#20abe8"><circle cx="0" cy="2.0" r="2.1"/><path d="M-3.0 4.0 H3.0 Q4.4 4.0 4.4 5.6 V12.2 Q4.4 12.9 3.7 12.9 Q3.1 12.9 3.1 12.2 V13 H-3.1 V12.2 Q-3.1 12.9 -3.7 12.9 Q-4.4 12.9 -4.4 12.2 V5.6 Q-4.4 4.0 -3.0 4.0Z"/><path d="M-2.6 12 H-0.25 V22.4 Q-0.25 23.1 -1.1 23.1 H-1.75 Q-2.6 23.1 -2.6 22.4Z"/><path d="M2.6 12 H0.25 V22.4 Q0.25 23.1 1.1 23.1 H1.75 Q2.6 23.1 2.6 22.4Z"/><rect x="-2.6" y="8" width="5.2" height="6"/></g>
<g transform="translate(830.30 729.90) scale(1 1.035)" fill="#cdcdcd"><circle cx="0" cy="2.0" r="2.1"/><path d="M-3.0 4.0 H3.0 Q4.4 4.0 4.4 5.6 V12.2 Q4.4 12.9 3.7 12.9 Q3.1 12.9 3.1 12.2 V13 H-3.1 V12.2 Q-3.1 12.9 -3.7 12.9 Q-4.4 12.9 -4.4 12.2 V5.6 Q-4.4 4.0 -3.0 4.0Z"/><path d="M-2.6 12 H-0.25 V22.4 Q-0.25 23.1 -1.1 23.1 H-1.75 Q-2.6 23.1 -2.6 22.4Z"/><path d="M2.6 12 H0.25 V22.4 Q0.25 23.1 1.1 23.1 H1.75 Q2.6 23.1 2.6 22.4Z"/><rect x="-2.6" y="8" width="5.2" height="6"/></g>
<g transform="translate(843.60 701.80) scale(1 1.035)" fill="#20abe8"><circle cx="0" cy="2.0" r="2.1"/><path d="M-3.0 4.0 H3.0 Q4.4 4.0 4.4 5.6 V12.2 Q4.4 12.9 3.7 12.9 Q3.1 12.9 3.1 12.2 V13 H-3.1 V12.2 Q-3.1 12.9 -3.7 12.9 Q-4.4 12.9 -4.4 12.2 V5.6 Q-4.4 4.0 -3.0 4.0Z"/><path d="M-2.6 12 H-0.25 V22.4 Q-0.25 23.1 -1.1 23.1 H-1.75 Q-2.6 23.1 -2.6 22.4Z"/><path d="M2.6 12 H0.25 V22.4 Q0.25 23.1 1.1 23.1 H1.75 Q2.6 23.1 2.6 22.4Z"/><rect x="-2.6" y="8" width="5.2" height="6"/></g>
<g transform="translate(843.60 729.90) scale(1 1.035)" fill="#cdcdcd"><circle cx="0" cy="2.0" r="2.1"/><path d="M-3.0 4.0 H3.0 Q4.4 4.0 4.4 5.6 V12.2 Q4.4 12.9 3.7 12.9 Q3.1 12.9 3.1 12.2 V13 H-3.1 V12.2 Q-3.1 12.9 -3.7 12.9 Q-4.4 12.9 -4.4 12.2 V5.6 Q-4.4 4.0 -3.0 4.0Z"/><path d="M-2.6 12 H-0.25 V22.4 Q-0.25 23.1 -1.1 23.1 H-1.75 Q-2.6 23.1 -2.6 22.4Z"/><path d="M2.6 12 H0.25 V22.4 Q0.25 23.1 1.1 23.1 H1.75 Q2.6 23.1 2.6 22.4Z"/><rect x="-2.6" y="8" width="5.2" height="6"/></g>
<text class="thinI" x="706.3" y="787.2" font-size="19.6" fill="#ea2a50" textLength="137" lengthAdjust="spacingAndGlyphs">INFORMATION 2</text>
<text class="thin1" x="707.8" y="808.7" font-size="8.9" fill="#2e2e2e" textLength="139.5" lengthAdjust="spacingAndGlyphs">LOREM IPSUM DOLOR SIT AMET,</text>
<text class="thin1" x="707.8" y="820.1" font-size="8.9" fill="#2e2e2e" textLength="139.5" lengthAdjust="spacingAndGlyphs">CONSECTETUR ADIPISCING ELIT,</text>
<text class="thin1" x="707.8" y="831.9" font-size="8.9" fill="#2e2e2e" textLength="117.5" lengthAdjust="spacingAndGlyphs">SED DO EIUSMOD TEMPOR</text>
<text class="thin1" x="707.8" y="843.3" font-size="8.9" fill="#2e2e2e" textLength="114.5" lengthAdjust="spacingAndGlyphs">INCIDIDUNT UT LABORE ET</text>
<g transform="translate(710.60 851.60) scale(1 1.035)" fill="#ff2046"><circle cx="0" cy="2.0" r="2.1"/><path d="M-3.0 4.0 H3.0 Q4.4 4.0 4.4 5.6 V12.2 Q4.4 12.9 3.7 12.9 Q3.1 12.9 3.1 12.2 V13 H-3.1 V12.2 Q-3.1 12.9 -3.7 12.9 Q-4.4 12.9 -4.4 12.2 V5.6 Q-4.4 4.0 -3.0 4.0Z"/><path d="M-2.6 12 H-0.25 V22.4 Q-0.25 23.1 -1.1 23.1 H-1.75 Q-2.6 23.1 -2.6 22.4Z"/><path d="M2.6 12 H0.25 V22.4 Q0.25 23.1 1.1 23.1 H1.75 Q2.6 23.1 2.6 22.4Z"/><rect x="-2.6" y="8" width="5.2" height="6"/></g>
<g transform="translate(710.60 879.40) scale(1 1.035)" fill="#ff2046"><circle cx="0" cy="2.0" r="2.1"/><path d="M-3.0 4.0 H3.0 Q4.4 4.0 4.4 5.6 V12.2 Q4.4 12.9 3.7 12.9 Q3.1 12.9 3.1 12.2 V13 H-3.1 V12.2 Q-3.1 12.9 -3.7 12.9 Q-4.4 12.9 -4.4 12.2 V5.6 Q-4.4 4.0 -3.0 4.0Z"/><path d="M-2.6 12 H-0.25 V22.4 Q-0.25 23.1 -1.1 23.1 H-1.75 Q-2.6 23.1 -2.6 22.4Z"/><path d="M2.6 12 H0.25 V22.4 Q0.25 23.1 1.1 23.1 H1.75 Q2.6 23.1 2.6 22.4Z"/><rect x="-2.6" y="8" width="5.2" height="6"/></g>
<g transform="translate(723.90 851.60) scale(1 1.035)" fill="#ff2046"><circle cx="0" cy="2.0" r="2.1"/><path d="M-3.0 4.0 H3.0 Q4.4 4.0 4.4 5.6 V12.2 Q4.4 12.9 3.7 12.9 Q3.1 12.9 3.1 12.2 V13 H-3.1 V12.2 Q-3.1 12.9 -3.7 12.9 Q-4.4 12.9 -4.4 12.2 V5.6 Q-4.4 4.0 -3.0 4.0Z"/><path d="M-2.6 12 H-0.25 V22.4 Q-0.25 23.1 -1.1 23.1 H-1.75 Q-2.6 23.1 -2.6 22.4Z"/><path d="M2.6 12 H0.25 V22.4 Q0.25 23.1 1.1 23.1 H1.75 Q2.6 23.1 2.6 22.4Z"/><rect x="-2.6" y="8" width="5.2" height="6"/></g>
<g transform="translate(723.90 879.40) scale(1 1.035)" fill="#ff2046"><circle cx="0" cy="2.0" r="2.1"/><path d="M-3.0 4.0 H3.0 Q4.4 4.0 4.4 5.6 V12.2 Q4.4 12.9 3.7 12.9 Q3.1 12.9 3.1 12.2 V13 H-3.1 V12.2 Q-3.1 12.9 -3.7 12.9 Q-4.4 12.9 -4.4 12.2 V5.6 Q-4.4 4.0 -3.0 4.0Z"/><path d="M-2.6 12 H-0.25 V22.4 Q-0.25 23.1 -1.1 23.1 H-1.75 Q-2.6 23.1 -2.6 22.4Z"/><path d="M2.6 12 H0.25 V22.4 Q0.25 23.1 1.1 23.1 H1.75 Q2.6 23.1 2.6 22.4Z"/><rect x="-2.6" y="8" width="5.2" height="6"/></g>
<g transform="translate(737.20 851.60) scale(1 1.035)" fill="#ff2046"><circle cx="0" cy="2.0" r="2.1"/><path d="M-3.0 4.0 H3.0 Q4.4 4.0 4.4 5.6 V12.2 Q4.4 12.9 3.7 12.9 Q3.1 12.9 3.1 12.2 V13 H-3.1 V12.2 Q-3.1 12.9 -3.7 12.9 Q-4.4 12.9 -4.4 12.2 V5.6 Q-4.4 4.0 -3.0 4.0Z"/><path d="M-2.6 12 H-0.25 V22.4 Q-0.25 23.1 -1.1 23.1 H-1.75 Q-2.6 23.1 -2.6 22.4Z"/><path d="M2.6 12 H0.25 V22.4 Q0.25 23.1 1.1 23.1 H1.75 Q2.6 23.1 2.6 22.4Z"/><rect x="-2.6" y="8" width="5.2" height="6"/></g>
<g transform="translate(737.20 879.40) scale(1 1.035)" fill="#ff2046"><circle cx="0" cy="2.0" r="2.1"/><path d="M-3.0 4.0 H3.0 Q4.4 4.0 4.4 5.6 V12.2 Q4.4 12.9 3.7 12.9 Q3.1 12.9 3.1 12.2 V13 H-3.1 V12.2 Q-3.1 12.9 -3.7 12.9 Q-4.4 12.9 -4.4 12.2 V5.6 Q-4.4 4.0 -3.0 4.0Z"/><path d="M-2.6 12 H-0.25 V22.4 Q-0.25 23.1 -1.1 23.1 H-1.75 Q-2.6 23.1 -2.6 22.4Z"/><path d="M2.6 12 H0.25 V22.4 Q0.25 23.1 1.1 23.1 H1.75 Q2.6 23.1 2.6 22.4Z"/><rect x="-2.6" y="8" width="5.2" height="6"/></g>
<g transform="translate(750.50 851.60) scale(1 1.035)" fill="#ff2046"><circle cx="0" cy="2.0" r="2.1"/><path d="M-3.0 4.0 H3.0 Q4.4 4.0 4.4 5.6 V12.2 Q4.4 12.9 3.7 12.9 Q3.1 12.9 3.1 12.2 V13 H-3.1 V12.2 Q-3.1 12.9 -3.7 12.9 Q-4.4 12.9 -4.4 12.2 V5.6 Q-4.4 4.0 -3.0 4.0Z"/><path d="M-2.6 12 H-0.25 V22.4 Q-0.25 23.1 -1.1 23.1 H-1.75 Q-2.6 23.1 -2.6 22.4Z"/><path d="M2.6 12 H0.25 V22.4 Q0.25 23.1 1.1 23.1 H1.75 Q2.6 23.1 2.6 22.4Z"/><rect x="-2.6" y="8" width="5.2" height="6"/></g>
<g transform="translate(750.50 879.40) scale(1 1.035)" fill="#ff2046"><circle cx="0" cy="2.0" r="2.1"/><path d="M-3.0 4.0 H3.0 Q4.4 4.0 4.4 5.6 V12.2 Q4.4 12.9 3.7 12.9 Q3.1 12.9 3.1 12.2 V13 H-3.1 V12.2 Q-3.1 12.9 -3.7 12.9 Q-4.4 12.9 -4.4 12.2 V5.6 Q-4.4 4.0 -3.0 4.0Z"/><path d="M-2.6 12 H-0.25 V22.4 Q-0.25 23.1 -1.1 23.1 H-1.75 Q-2.6 23.1 -2.6 22.4Z"/><path d="M2.6 12 H0.25 V22.4 Q0.25 23.1 1.1 23.1 H1.75 Q2.6 23.1 2.6 22.4Z"/><rect x="-2.6" y="8" width="5.2" height="6"/></g>
<g transform="translate(763.80 851.60) scale(1 1.035)" fill="#ff2046"><circle cx="0" cy="2.0" r="2.1"/><path d="M-3.0 4.0 H3.0 Q4.4 4.0 4.4 5.6 V12.2 Q4.4 12.9 3.7 12.9 Q3.1 12.9 3.1 12.2 V13 H-3.1 V12.2 Q-3.1 12.9 -3.7 12.9 Q-4.4 12.9 -4.4 12.2 V5.6 Q-4.4 4.0 -3.0 4.0Z"/><path d="M-2.6 12 H-0.25 V22.4 Q-0.25 23.1 -1.1 23.1 H-1.75 Q-2.6 23.1 -2.6 22.4Z"/><path d="M2.6 12 H0.25 V22.4 Q0.25 23.1 1.1 23.1 H1.75 Q2.6 23.1 2.6 22.4Z"/><rect x="-2.6" y="8" width="5.2" height="6"/></g>
<g transform="translate(763.80 879.40) scale(1 1.035)" fill="#ff2046"><circle cx="0" cy="2.0" r="2.1"/><path d="M-3.0 4.0 H3.0 Q4.4 4.0 4.4 5.6 V12.2 Q4.4 12.9 3.7 12.9 Q3.1 12.9 3.1 12.2 V13 H-3.1 V12.2 Q-3.1 12.9 -3.7 12.9 Q-4.4 12.9 -4.4 12.2 V5.6 Q-4.4 4.0 -3.0 4.0Z"/><path d="M-2.6 12 H-0.25 V22.4 Q-0.25 23.1 -1.1 23.1 H-1.75 Q-2.6 23.1 -2.6 22.4Z"/><path d="M2.6 12 H0.25 V22.4 Q0.25 23.1 1.1 23.1 H1.75 Q2.6 23.1 2.6 22.4Z"/><rect x="-2.6" y="8" width="5.2" height="6"/></g>
<g transform="translate(777.10 851.60) scale(1 1.035)" fill="#ff2046"><circle cx="0" cy="2.0" r="2.1"/><path d="M-3.0 4.0 H3.0 Q4.4 4.0 4.4 5.6 V12.2 Q4.4 12.9 3.7 12.9 Q3.1 12.9 3.1 12.2 V13 H-3.1 V12.2 Q-3.1 12.9 -3.7 12.9 Q-4.4 12.9 -4.4 12.2 V5.6 Q-4.4 4.0 -3.0 4.0Z"/><path d="M-2.6 12 H-0.25 V22.4 Q-0.25 23.1 -1.1 23.1 H-1.75 Q-2.6 23.1 -2.6 22.4Z"/><path d="M2.6 12 H0.25 V22.4 Q0.25 23.1 1.1 23.1 H1.75 Q2.6 23.1 2.6 22.4Z"/><rect x="-2.6" y="8" width="5.2" height="6"/></g>
<g transform="translate(777.10 879.40) scale(1 1.035)" fill="#ff2046"><circle cx="0" cy="2.0" r="2.1"/><path d="M-3.0 4.0 H3.0 Q4.4 4.0 4.4 5.6 V12.2 Q4.4 12.9 3.7 12.9 Q3.1 12.9 3.1 12.2 V13 H-3.1 V12.2 Q-3.1 12.9 -3.7 12.9 Q-4.4 12.9 -4.4 12.2 V5.6 Q-4.4 4.0 -3.0 4.0Z"/><path d="M-2.6 12 H-0.25 V22.4 Q-0.25 23.1 -1.1 23.1 H-1.75 Q-2.6 23.1 -2.6 22.4Z"/><path d="M2.6 12 H0.25 V22.4 Q0.25 23.1 1.1 23.1 H1.75 Q2.6 23.1 2.6 22.4Z"/><rect x="-2.6" y="8" width="5.2" height="6"/></g>
<g transform="translate(790.40 851.60) scale(1 1.035)" fill="#ff2046"><circle cx="0" cy="2.0" r="2.1"/><path d="M-3.0 4.0 H3.0 Q4.4 4.0 4.4 5.6 V12.2 Q4.4 12.9 3.7 12.9 Q3.1 12.9 3.1 12.2 V13 H-3.1 V12.2 Q-3.1 12.9 -3.7 12.9 Q-4.4 12.9 -4.4 12.2 V5.6 Q-4.4 4.0 -3.0 4.0Z"/><path d="M-2.6 12 H-0.25 V22.4 Q-0.25 23.1 -1.1 23.1 H-1.75 Q-2.6 23.1 -2.6 22.4Z"/><path d="M2.6 12 H0.25 V22.4 Q0.25 23.1 1.1 23.1 H1.75 Q2.6 23.1 2.6 22.4Z"/><rect x="-2.6" y="8" width="5.2" height="6"/></g>
<g transform="translate(790.40 879.40) scale(1 1.035)" fill="#cdcdcd"><circle cx="0" cy="2.0" r="2.1"/><path d="M-3.0 4.0 H3.0 Q4.4 4.0 4.4 5.6 V12.2 Q4.4 12.9 3.7 12.9 Q3.1 12.9 3.1 12.2 V13 H-3.1 V12.2 Q-3.1 12.9 -3.7 12.9 Q-4.4 12.9 -4.4 12.2 V5.6 Q-4.4 4.0 -3.0 4.0Z"/><path d="M-2.6 12 H-0.25 V22.4 Q-0.25 23.1 -1.1 23.1 H-1.75 Q-2.6 23.1 -2.6 22.4Z"/><path d="M2.6 12 H0.25 V22.4 Q0.25 23.1 1.1 23.1 H1.75 Q2.6 23.1 2.6 22.4Z"/><rect x="-2.6" y="8" width="5.2" height="6"/></g>
<g transform="translate(803.70 851.60) scale(1 1.035)" fill="#ff2046"><circle cx="0" cy="2.0" r="2.1"/><path d="M-3.0 4.0 H3.0 Q4.4 4.0 4.4 5.6 V12.2 Q4.4 12.9 3.7 12.9 Q3.1 12.9 3.1 12.2 V13 H-3.1 V12.2 Q-3.1 12.9 -3.7 12.9 Q-4.4 12.9 -4.4 12.2 V5.6 Q-4.4 4.0 -3.0 4.0Z"/><path d="M-2.6 12 H-0.25 V22.4 Q-0.25 23.1 -1.1 23.1 H-1.75 Q-2.6 23.1 -2.6 22.4Z"/><path d="M2.6 12 H0.25 V22.4 Q0.25 23.1 1.1 23.1 H1.75 Q2.6 23.1 2.6 22.4Z"/><rect x="-2.6" y="8" width="5.2" height="6"/></g>
<g transform="translate(803.70 879.40) scale(1 1.035)" fill="#cdcdcd"><circle cx="0" cy="2.0" r="2.1"/><path d="M-3.0 4.0 H3.0 Q4.4 4.0 4.4 5.6 V12.2 Q4.4 12.9 3.7 12.9 Q3.1 12.9 3.1 12.2 V13 H-3.1 V12.2 Q-3.1 12.9 -3.7 12.9 Q-4.4 12.9 -4.4 12.2 V5.6 Q-4.4 4.0 -3.0 4.0Z"/><path d="M-2.6 12 H-0.25 V22.4 Q-0.25 23.1 -1.1 23.1 H-1.75 Q-2.6 23.1 -2.6 22.4Z"/><path d="M2.6 12 H0.25 V22.4 Q0.25 23.1 1.1 23.1 H1.75 Q2.6 23.1 2.6 22.4Z"/><rect x="-2.6" y="8" width="5.2" height="6"/></g>
<g transform="translate(817.00 851.60) scale(1 1.035)" fill="#ff2046"><circle cx="0" cy="2.0" r="2.1"/><path d="M-3.0 4.0 H3.0 Q4.4 4.0 4.4 5.6 V12.2 Q4.4 12.9 3.7 12.9 Q3.1 12.9 3.1 12.2 V13 H-3.1 V12.2 Q-3.1 12.9 -3.7 12.9 Q-4.4 12.9 -4.4 12.2 V5.6 Q-4.4 4.0 -3.0 4.0Z"/><path d="M-2.6 12 H-0.25 V22.4 Q-0.25 23.1 -1.1 23.1 H-1.75 Q-2.6 23.1 -2.6 22.4Z"/><path d="M2.6 12 H0.25 V22.4 Q0.25 23.1 1.1 23.1 H1.75 Q2.6 23.1 2.6 22.4Z"/><rect x="-2.6" y="8" width="5.2" height="6"/></g>
<g transform="translate(817.00 879.40) scale(1 1.035)" fill="#cdcdcd"><circle cx="0" cy="2.0" r="2.1"/><path d="M-3.0 4.0 H3.0 Q4.4 4.0 4.4 5.6 V12.2 Q4.4 12.9 3.7 12.9 Q3.1 12.9 3.1 12.2 V13 H-3.1 V12.2 Q-3.1 12.9 -3.7 12.9 Q-4.4 12.9 -4.4 12.2 V5.6 Q-4.4 4.0 -3.0 4.0Z"/><path d="M-2.6 12 H-0.25 V22.4 Q-0.25 23.1 -1.1 23.1 H-1.75 Q-2.6 23.1 -2.6 22.4Z"/><path d="M2.6 12 H0.25 V22.4 Q0.25 23.1 1.1 23.1 H1.75 Q2.6 23.1 2.6 22.4Z"/><rect x="-2.6" y="8" width="5.2" height="6"/></g>
<g transform="translate(830.30 851.60) scale(1 1.035)" fill="#ff2046"><circle cx="0" cy="2.0" r="2.1"/><path d="M-3.0 4.0 H3.0 Q4.4 4.0 4.4 5.6 V12.2 Q4.4 12.9 3.7 12.9 Q3.1 12.9 3.1 12.2 V13 H-3.1 V12.2 Q-3.1 12.9 -3.7 12.9 Q-4.4 12.9 -4.4 12.2 V5.6 Q-4.4 4.0 -3.0 4.0Z"/><path d="M-2.6 12 H-0.25 V22.4 Q-0.25 23.1 -1.1 23.1 H-1.75 Q-2.6 23.1 -2.6 22.4Z"/><path d="M2.6 12 H0.25 V22.4 Q0.25 23.1 1.1 23.1 H1.75 Q2.6 23.1 2.6 22.4Z"/><rect x="-2.6" y="8" width="5.2" height="6"/></g>
<g transform="translate(830.30 879.40) scale(1 1.035)" fill="#cdcdcd"><circle cx="0" cy="2.0" r="2.1"/><path d="M-3.0 4.0 H3.0 Q4.4 4.0 4.4 5.6 V12.2 Q4.4 12.9 3.7 12.9 Q3.1 12.9 3.1 12.2 V13 H-3.1 V12.2 Q-3.1 12.9 -3.7 12.9 Q-4.4 12.9 -4.4 12.2 V5.6 Q-4.4 4.0 -3.0 4.0Z"/><path d="M-2.6 12 H-0.25 V22.4 Q-0.25 23.1 -1.1 23.1 H-1.75 Q-2.6 23.1 -2.6 22.4Z"/><path d="M2.6 12 H0.25 V22.4 Q0.25 23.1 1.1 23.1 H1.75 Q2.6 23.1 2.6 22.4Z"/><rect x="-2.6" y="8" width="5.2" height="6"/></g>
<g transform="translate(843.60 851.60) scale(1 1.035)" fill="#ff2046"><circle cx="0" cy="2.0" r="2.1"/><path d="M-3.0 4.0 H3.0 Q4.4 4.0 4.4 5.6 V12.2 Q4.4 12.9 3.7 12.9 Q3.1 12.9 3.1 12.2 V13 H-3.1 V12.2 Q-3.1 12.9 -3.7 12.9 Q-4.4 12.9 -4.4 12.2 V5.6 Q-4.4 4.0 -3.0 4.0Z"/><path d="M-2.6 12 H-0.25 V22.4 Q-0.25 23.1 -1.1 23.1 H-1.75 Q-2.6 23.1 -2.6 22.4Z"/><path d="M2.6 12 H0.25 V22.4 Q0.25 23.1 1.1 23.1 H1.75 Q2.6 23.1 2.6 22.4Z"/><rect x="-2.6" y="8" width="5.2" height="6"/></g>
<g transform="translate(843.60 879.40) scale(1 1.035)" fill="#cdcdcd"><circle cx="0" cy="2.0" r="2.1"/><path d="M-3.0 4.0 H3.0 Q4.4 4.0 4.4 5.6 V12.2 Q4.4 12.9 3.7 12.9 Q3.1 12.9 3.1 12.2 V13 H-3.1 V12.2 Q-3.1 12.9 -3.7 12.9 Q-4.4 12.9 -4.4 12.2 V5.6 Q-4.4 4.0 -3.0 4.0Z"/><path d="M-2.6 12 H-0.25 V22.4 Q-0.25 23.1 -1.1 23.1 H-1.75 Q-2.6 23.1 -2.6 22.4Z"/><path d="M2.6 12 H0.25 V22.4 Q0.25 23.1 1.1 23.1 H1.75 Q2.6 23.1 2.6 22.4Z"/><rect x="-2.6" y="8" width="5.2" height="6"/></g>
</g>
<g id="bars">
<text class="thin2" x="879.6" y="561.8" font-size="28.5" fill="#111" textLength="201.5" lengthAdjust="spacingAndGlyphs">LOREM IPSUM</text>
<rect x="883.6" y="628" width="0.9" height="260" fill="#e6e6e6"/>
<rect x="883.6" y="884.2" width="412" height="0.9" fill="#e2e2e2"/>
<rect x="883.5" y="884.2" width="0.9" height="5" fill="#dcdcdc"/>
<text x="884.0" y="903.2" text-anchor="middle" font-size="11.4" fill="#222">0</text>
<rect x="934.7" y="884.2" width="0.9" height="5" fill="#dcdcdc"/>
<text x="935.2" y="903.2" text-anchor="middle" font-size="11.4" fill="#222">10</text>
<rect x="985.9" y="884.2" width="0.9" height="5" fill="#dcdcdc"/>
<text x="986.4" y="903.2" text-anchor="middle" font-size="11.4" fill="#222">20</text>
<rect x="1037.1" y="884.2" width="0.9" height="5" fill="#dcdcdc"/>
<text x="1037.5" y="903.2" text-anchor="middle" font-size="11.4" fill="#222">30</text>
<rect x="1088.3" y="884.2" width="0.9" height="5" fill="#dcdcdc"/>
<text x="1088.7" y="903.2" text-anchor="middle" font-size="11.4" fill="#222">40</text>
<rect x="1139.5" y="884.2" width="0.9" height="5" fill="#dcdcdc"/>
<text x="1139.9" y="903.2" text-anchor="middle" font-size="11.4" fill="#222">50</text>
<rect x="1190.6" y="884.2" width="0.9" height="5" fill="#dcdcdc"/>
<text x="1191.1" y="903.2" text-anchor="middle" font-size="11.4" fill="#222">60</text>
<rect x="1241.8" y="884.2" width="0.9" height="5" fill="#dcdcdc"/>
<text x="1242.3" y="903.2" text-anchor="middle" font-size="11.4" fill="#222">70</text>
<rect x="1293.0" y="884.2" width="0.9" height="5" fill="#dcdcdc"/>
<text x="1292.5" y="903.2" text-anchor="middle" font-size="11.4" fill="#222">80</text>
<rect x="884.0" y="636.0" width="303.9" height="36.3" fill="#ffaa5b"/>
<rect x="884.0" y="636.0" width="159.8" height="36.3" fill="#ff9527"/>
<text x="1203.2" y="659.3" font-size="14.2" font-weight="bold" fill="#ff9527" textLength="52.2" lengthAdjust="spacingAndGlyphs">153,289</text>
<rect x="884.0" y="686.7" width="346.2" height="36.3" fill="#ff596d"/>
<rect x="884.0" y="686.7" width="282.2" height="36.3" fill="#ff2046"/>
<text x="1247.0" y="710.0" font-size="14.2" font-weight="bold" fill="#ff2046" textLength="52.0" lengthAdjust="spacingAndGlyphs">256,101</text>
<rect x="884.0" y="737.8" width="188.8" height="36.3" fill="#b6e861"/>
<rect x="884.0" y="737.8" width="62.9" height="36.3" fill="#96e021"/>
<text x="1088.8" y="761.1" font-size="14.2" font-weight="bold" fill="#96e021" textLength="44.3" lengthAdjust="spacingAndGlyphs">68,158</text>
<rect x="884.0" y="788.5" width="56.5" height="36.3" fill="#0c86c5"/>
<rect x="884.0" y="788.5" width="24.8" height="36.3" fill="#06548a"/>
<text x="959.0" y="811.8" font-size="14.2" font-weight="bold" fill="#06548a" textLength="35.3" lengthAdjust="spacingAndGlyphs">7,371</text>
<rect x="884.0" y="839.3" width="265.8" height="36.3" fill="#4ccbff"/>
<rect x="884.0" y="839.3" width="117.0" height="36.3" fill="#1fb9fd"/>
<text x="1166.2" y="862.6" font-size="14.2" font-weight="bold" fill="#1fb9fd" textLength="51.6" lengthAdjust="spacingAndGlyphs">158,637</text>
</g>
<g id="wm">
<g opacity="0.50"><text transform="translate(151.9 336.8) scale(0.64 1)" font-size="59" font-weight="bold" fill="#fff" stroke="#fff" stroke-width="2.6" stroke-linejoin="round" letter-spacing="0.6">alamy</text></g>
<g opacity="0.50"><text transform="translate(1043.0 336.7) scale(0.64 1)" font-size="59" font-weight="bold" fill="#fff" stroke="#fff" stroke-width="2.6" stroke-linejoin="round" letter-spacing="0.6">alamy</text></g>
<g opacity="0.50"><text transform="translate(891.0 722.7) scale(0.64 1)" font-size="59" font-weight="bold" fill="#fff" stroke="#fff" stroke-width="2.6" stroke-linejoin="round" letter-spacing="0.6">alamy</text></g>
<g opacity="0.50"><text transform="translate(595.2 459.7) scale(0.64 1)" font-size="59" font-weight="bold" fill="#fff" stroke="#fff" stroke-width="2.6" stroke-linejoin="round" letter-spacing="0.6">alamy</text></g>
<g opacity="0.50"><text transform="translate(341.7 201.7) scale(0.5 1)" font-size="49" font-weight="bold" fill="#fff" stroke="#fff" stroke-width="2.2" stroke-linejoin="round">a</text></g>
<g opacity="0.50"><text transform="translate(341.7 461.7) scale(0.5 1)" font-size="49" font-weight="bold" fill="#fff" stroke="#fff" stroke-width="2.2" stroke-linejoin="round">a</text></g>
<g opacity="0.50"><text transform="translate(941.7 461.7) scale(0.5 1)" font-size="49" font-weight="bold" fill="#fff" stroke="#fff" stroke-width="2.2" stroke-linejoin="round">a</text></g>
<g opacity="0.50"><text transform="translate(1242.1 461.7) scale(0.5 1)" font-size="49" font-weight="bold" fill="#fff" stroke="#fff" stroke-width="2.2" stroke-linejoin="round">a</text></g>
<g opacity="0.50"><text transform="translate(1090.9 851.2) scale(0.5 1)" font-size="49" font-weight="bold" fill="#fff" stroke="#fff" stroke-width="2.2" stroke-linejoin="round">a</text></g>
<g opacity="0.50"><text transform="translate(492.5 851.5) scale(0.5 1)" font-size="49" font-weight="bold" fill="#fff" stroke="#fff" stroke-width="2.2" stroke-linejoin="round">a</text></g>
</g>
<g id="footer">
<rect x="0" y="907" width="1300" height="90" fill="#000"/>
<text transform="translate(50.3 966.6) scale(0.715 1)" font-size="48" font-weight="bold" fill="#fff" stroke="#fff" stroke-width="2.2" stroke-linejoin="round" letter-spacing="1.2">alamy</text>
<text x="1249.5" y="943.6" text-anchor="end" font-size="13.2" fill="#f2f2f2" textLength="129" lengthAdjust="spacingAndGlyphs">Image ID: 2EC2NY5</text>
<text x="1250" y="967.6" text-anchor="end" font-size="15.6" font-weight="bold" fill="#fff" textLength="134.5" lengthAdjust="spacingAndGlyphs">www.alamy.com</text>
</g>
<text x="879.8" y="578.0" font-size="11.3" fill="#2f6f9e" font-variant="small-caps" style="font-variant:small-caps" textLength="401.5" lengthAdjust="spacingAndGlyphs">But I must explain to you how all this mistaken idea of denouncing pleasure and</text>
<text x="879.8" y="590.2" font-size="11.3" fill="#2f6f9e" font-variant="small-caps" style="font-variant:small-caps" textLength="401.5" lengthAdjust="spacingAndGlyphs">praising pain was born and I will give you a complete account of the system, and</text>
<text x="879.8" y="602.4" font-size="11.3" fill="#2f6f9e" font-variant="small-caps" style="font-variant:small-caps" textLength="401.5" lengthAdjust="spacingAndGlyphs">expound the actual teachings of the great explorer of the truth, the master-builder</text>
<text x="879.8" y="614.2" font-size="11.3" fill="#2f6f9e" font-variant="small-caps" style="font-variant:small-caps" textLength="93.8" lengthAdjust="spacingAndGlyphs">of human happiness.</text>
</svg>
</body></html>
